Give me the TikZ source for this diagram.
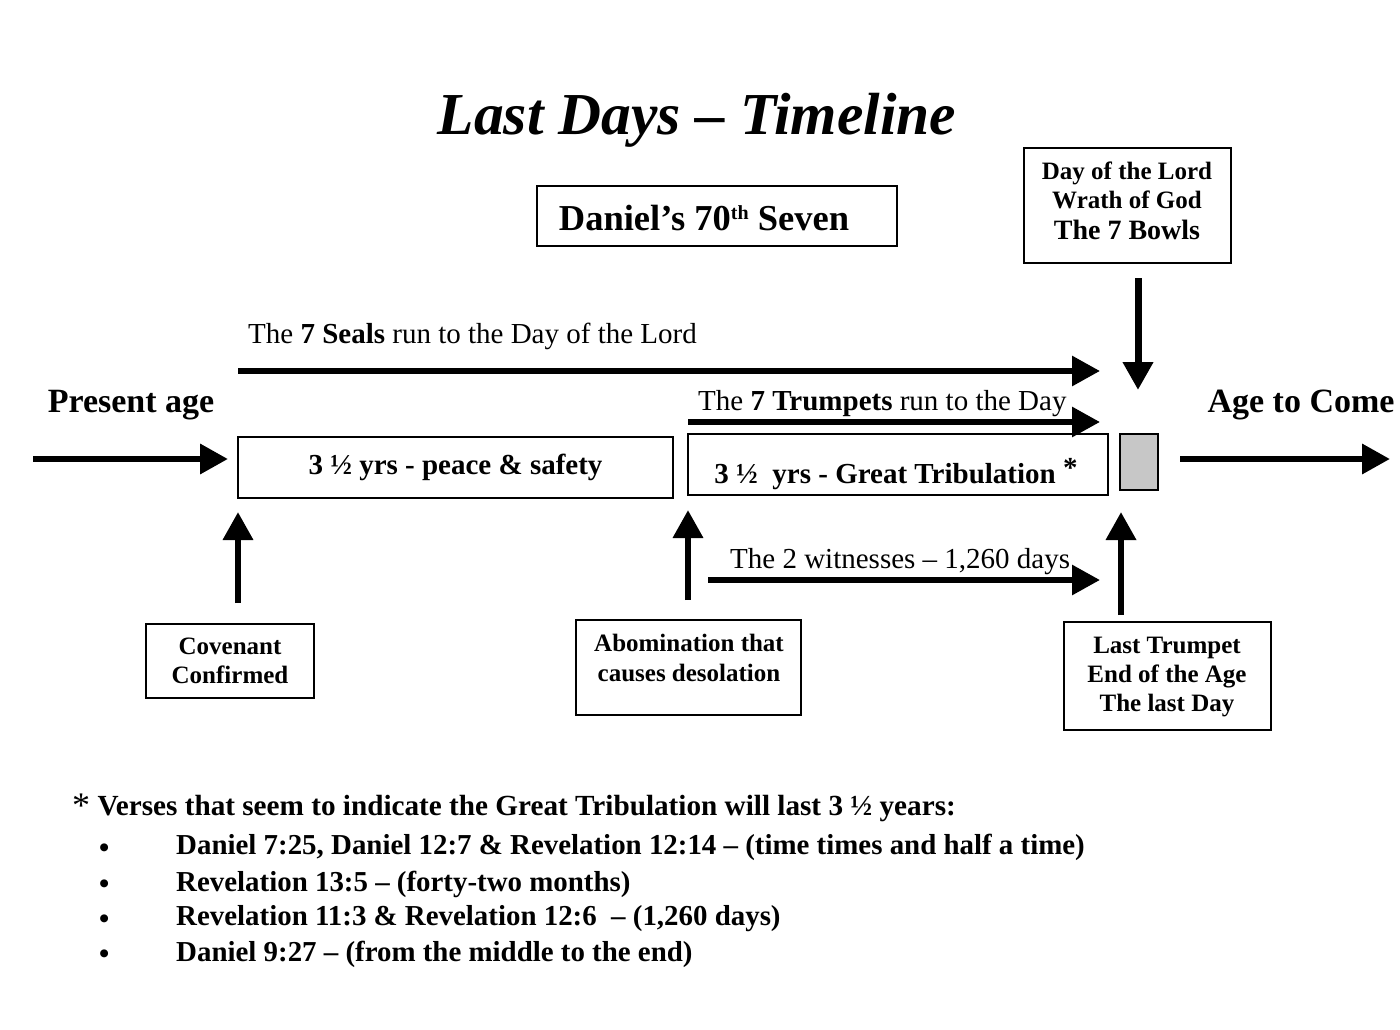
\documentclass[tikz,border=0pt]{standalone}
\usepackage{fontspec}
\setmainfont{Liberation Serif}
\usetikzlibrary{arrows.meta}
\tikzset{
  frame/.style={draw, line width=1.5pt, inner sep=0pt},
  bigarrow/.style={-{Triangle[length=28pt,width=29pt]}, line width=6.5pt},
  lbl/.style={inner sep=0pt, align=center},
  f25/.style={font=\fontsize{25}{29}\selectfont\bfseries},
  f29/.style={font=\fontsize{29}{34}\selectfont},
  f29b/.style={font=\fontsize{29}{34}\selectfont\bfseries},
  f34b/.style={font=\fontsize{34}{40}\selectfont\bfseries},
  foot/.style={inner sep=0pt, anchor=base west, font=\fontsize{29.2}{34}\selectfont\bfseries},
  item/.style={foot, font=\fontsize{28.9}{34}\selectfont\bfseries},
}
\begin{document}
\begin{tikzpicture}[x=1pt,y=-1pt]
\useasboundingbox[fill=white] (0,0) rectangle (1400,1030);

% title
\node[lbl, anchor=base, font=\fontsize{59.5}{66}\selectfont\bfseries\itshape] (title) at (697,135) {Last Days – Timeline};

% Daniel box
\node[frame, minimum width=360pt, minimum height=60pt] (dan) at (717,216) {};
\node[lbl, font=\fontsize{36.5}{40}\selectfont\bfseries] (dantxt) at (704,218) {Daniel’s 70\raisebox{11pt}{\fontsize{20}{20}\selectfont th} Seven};

% Day of the Lord box
\node[frame, minimum width=207pt, minimum height=115pt] (dol) at (1127.5,205.5) {};
\node[lbl, f25] (doltxt) at (1127,201) {Day of the Lord\\Wrath of God\\[2pt]{\fontsize{28}{32}\selectfont The 7 Bowls}};

% side labels
\node[lbl, f34b] (present) at (131,405) {Present age};
\node[lbl, f34b] (agecome) at (1301,405) {Age to Come};

% main boxes
\node[frame, minimum width=435pt, minimum height=61pt] (b1) at (455.5,467.5) {};
\node[lbl, f29b] (b1txt) at (455.5,467) {3 ½ yrs - peace \& safety};
\node[frame, minimum width=420pt, minimum height=61pt] (b2) at (898,464.5) {};
\node[lbl, f29b, anchor=base] (b2txt) at (896,483) {3 ½\ \ yrs - Great Tribulation \raisebox{6pt}{*}};
\node[frame, fill=black!22, minimum width=38pt, minimum height=56pt] (gray) at (1139,462) {};

% arrow texts
\node[lbl, f29, anchor=base west] (sealstxt) at (248,343) {The \textbf{7 Seals} run to the Day of the Lord};
\node[lbl, f29, anchor=base west] (trumptxt) at (698,410) {The \textbf{7 Trumpets} run to the Day};
\node[lbl, f29, anchor=base west] (wittxt) at (730,568) {The 2 witnesses – 1,260 days};

% bottom boxes
\node[frame, minimum width=168pt, minimum height=74pt] (cov) at (230,661) {};
\node[lbl, f25] (covtxt) at (230,661) {Covenant\\Confirmed};
\node[frame, minimum width=225pt, minimum height=95pt] (abom) at (688.5,667.5) {};
\node[lbl, f25] (abomtxt) at (689,658) {Abomination that\\[1pt]causes desolation};
\node[frame, minimum width=207pt, minimum height=108pt] (lt) at (1167.5,676) {};
\node[lbl, f25] (lttxt) at (1167,677) {Last Trumpet\\End of the Age\\The last Day};

% arrow end points
\coordinate (pa1) at (33,459);   \coordinate (pa2) at (228,459);
\coordinate (ac1) at (1180,459); \coordinate (ac2) at (1390,459);
\coordinate (s1) at (238,371);   \coordinate (s2) at (1100,371);
\coordinate (t1) at (688,422);   \coordinate (t2) at (1100,422);
\coordinate (w1) at (708,580);   \coordinate (w2) at (1100,580);
\coordinate (d1) at (1138,278);  \coordinate (d2) at (1138,390);
\coordinate (u1a) at (238,603);  \coordinate (u1b) at (238,512);
\coordinate (u2a) at (688,600);  \coordinate (u2b) at (688,510);
\coordinate (u3a) at (1121,615); \coordinate (u3b) at (1121,512);

\draw[bigarrow] (pa1) -- (pa2);
\draw[bigarrow] (ac1) -- (ac2);
\draw[bigarrow, line width=6pt] (s1) -- (s2);
\draw[bigarrow, line width=6pt] (t1) -- (t2);
\draw[bigarrow, line width=6pt] (w1) -- (w2);
\draw[bigarrow, line width=7pt] (d1) -- (d2);
\draw[bigarrow] (u1a) -- (u1b);
\draw[bigarrow] (u2a) -- (u2b);
\draw[bigarrow] (u3a) -- (u3b);

% footnote
\node[foot] (fn) at (72,815) {{\fontsize{36}{36}\selectfont\mdseries\raisebox{-2pt}{*}} Verses that seem to indicate the Great Tribulation will last 3 ½ years:};
\node[foot] (bul1) at (99,857) {•};
\node[foot] (bul2) at (99,893) {•};
\node[foot] (bul3) at (99,928) {•};
\node[foot] (bul4) at (99,963) {•};
\node[item] (it1) at (176,854) {Daniel 7:25, Daniel 12:7 \& Revelation 12:14 – (time times and half a time)};
\node[item] (it2) at (176,891) {Revelation 13:5 – (forty-two months)};
\node[item] (it3) at (176,925) {Revelation 11:3 \& Revelation 12:6\ \ – (1,260 days)};
\node[item] (it4) at (176,961) {Daniel 9:27 – (from the middle to the end)};
\end{tikzpicture}
\end{document}
